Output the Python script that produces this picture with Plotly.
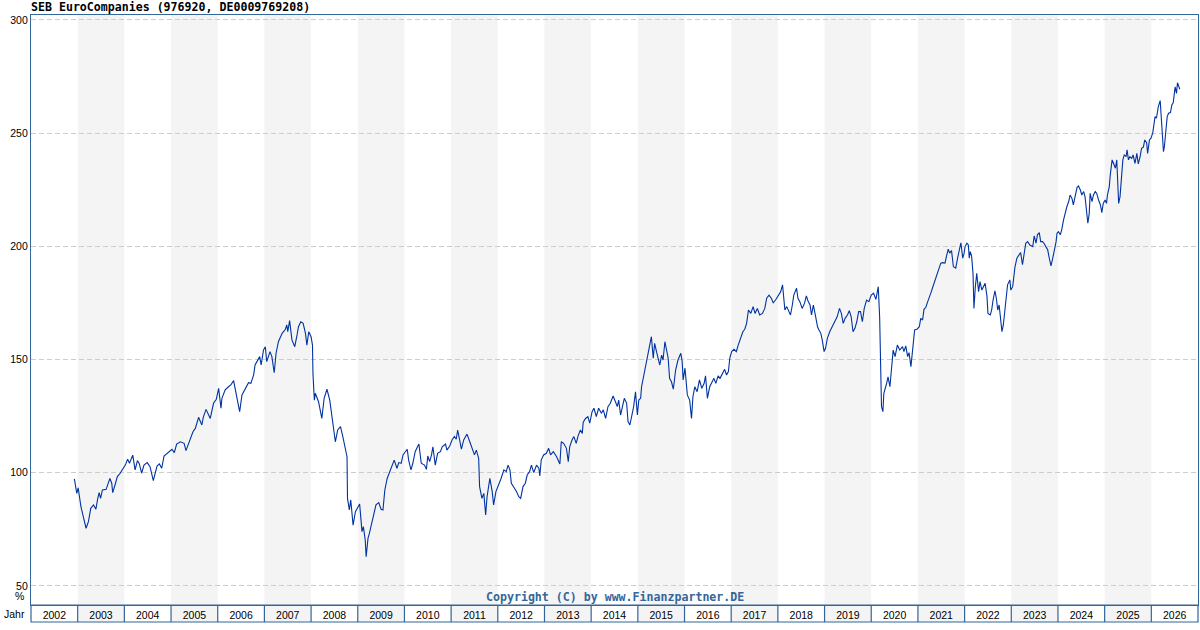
import plotly.graph_objects as go

title_text = "SEB EuroCompanies (976920, DE0009769208)"
copyright_text = "Copyright (C) by www.Finanzpartner.DE"
years = list(range(2002, 2027))
y_ticks = [50, 100, 150, 200, 250, 300]

t = [2002.93, 2002.98, 2003.01, 2003.07, 2003.12, 2003.18, 2003.23, 2003.28, 2003.34, 2003.39,
     2003.43, 2003.46, 2003.49, 2003.53, 2003.61, 2003.66, 2003.69, 2003.73, 2003.75, 2003.80,
     2003.85, 2003.91, 2003.97, 2004.02, 2004.07, 2004.11, 2004.18, 2004.23, 2004.28, 2004.32,
     2004.37, 2004.42, 2004.49, 2004.55, 2004.62, 2004.70, 2004.75, 2004.80, 2004.85, 2004.91,
     2005.02, 2005.07, 2005.12, 2005.20, 2005.28, 2005.32, 2005.41, 2005.47, 2005.52, 2005.59,
     2005.66, 2005.69, 2005.75, 2005.84, 2005.91, 2005.97, 2006.02, 2006.07, 2006.09, 2006.16,
     2006.23, 2006.28, 2006.34, 2006.40, 2006.47, 2006.52, 2006.59, 2006.66, 2006.71, 2006.77,
     2006.80, 2006.85, 2006.90, 2006.93, 2006.98, 2007.02, 2007.05, 2007.12, 2007.16, 2007.21,
     2007.25, 2007.30, 2007.38, 2007.45, 2007.48, 2007.50, 2007.54, 2007.59, 2007.65, 2007.70,
     2007.73, 2007.78, 2007.83, 2007.88, 2007.91, 2007.95, 2008.00, 2008.03, 2008.04, 2008.07,
     2008.09, 2008.16, 2008.23, 2008.28, 2008.34, 2008.40, 2008.48, 2008.52, 2008.57, 2008.63,
     2008.68, 2008.73, 2008.77, 2008.78, 2008.82, 2008.85, 2008.90, 2008.95, 2009.00, 2009.04,
     2009.07, 2009.09, 2009.12, 2009.16, 2009.18, 2009.22, 2009.25, 2009.30, 2009.34, 2009.39,
     2009.45, 2009.50, 2009.54, 2009.58, 2009.63, 2009.68, 2009.73, 2009.78, 2009.84, 2009.88,
     2009.93, 2009.97, 2010.02, 2010.06, 2010.09, 2010.14, 2010.18, 2010.23, 2010.28, 2010.31,
     2010.36, 2010.43, 2010.47, 2010.50, 2010.54, 2010.58, 2010.61, 2010.66, 2010.71, 2010.77,
     2010.81, 2010.88, 2010.91, 2010.97, 2011.02, 2011.07, 2011.11, 2011.14, 2011.18, 2011.22,
     2011.27, 2011.34, 2011.40, 2011.45, 2011.50, 2011.54, 2011.59, 2011.61, 2011.66, 2011.70,
     2011.74, 2011.77, 2011.83, 2011.88, 2011.91, 2011.96, 2012.02, 2012.07, 2012.13, 2012.18,
     2012.22, 2012.26, 2012.29, 2012.34, 2012.40, 2012.45, 2012.49, 2012.54, 2012.59, 2012.63,
     2012.68, 2012.72, 2012.77, 2012.83, 2012.88, 2012.90, 2012.93, 2012.98, 2013.04, 2013.09,
     2013.13, 2013.19, 2013.26, 2013.33, 2013.36, 2013.41, 2013.47, 2013.51, 2013.54, 2013.59,
     2013.63, 2013.68, 2013.72, 2013.77, 2013.81, 2013.83, 2013.88, 2013.93, 2013.97, 2014.02,
     2014.06, 2014.11, 2014.16, 2014.22, 2014.26, 2014.31, 2014.36, 2014.41, 2014.47, 2014.52,
     2014.56, 2014.59, 2014.63, 2014.67, 2014.71, 2014.76, 2014.79, 2014.83, 2014.88, 2014.91,
     2014.95, 2014.99, 2015.02, 2015.06, 2015.08, 2015.12, 2015.15, 2015.19, 2015.24, 2015.27,
     2015.29, 2015.33, 2015.36, 2015.40, 2015.44, 2015.47, 2015.51, 2015.54, 2015.58, 2015.62,
     2015.65, 2015.68, 2015.72, 2015.76, 2015.81, 2015.86, 2015.92, 2015.95, 2015.97, 2016.01,
     2016.06, 2016.11, 2016.15, 2016.18, 2016.22, 2016.27, 2016.32, 2016.37, 2016.42, 2016.45,
     2016.49, 2016.54, 2016.60, 2016.63, 2016.67, 2016.72, 2016.76, 2016.81, 2016.86, 2016.90,
     2016.94, 2016.97, 2017.01, 2017.06, 2017.11, 2017.15, 2017.20, 2017.25, 2017.29, 2017.33,
     2017.37, 2017.42, 2017.47, 2017.51, 2017.56, 2017.61, 2017.67, 2017.72, 2017.76, 2017.81,
     2017.86, 2017.90, 2017.95, 2018.00, 2018.06, 2018.10, 2018.12, 2018.15, 2018.19, 2018.24,
     2018.27, 2018.31, 2018.34, 2018.40, 2018.43, 2018.47, 2018.52, 2018.57, 2018.61, 2018.65,
     2018.69, 2018.72, 2018.76, 2018.81, 2018.85, 2018.88, 2018.92, 2018.95, 2018.99, 2019.02,
     2019.06, 2019.11, 2019.15, 2019.20, 2019.24, 2019.27, 2019.32, 2019.36, 2019.40, 2019.44,
     2019.49, 2019.53, 2019.57, 2019.61, 2019.65, 2019.69, 2019.73, 2019.77, 2019.81, 2019.85,
     2019.90, 2019.95, 2020.00, 2020.05, 2020.10, 2020.15, 2020.18, 2020.20, 2020.22, 2020.25,
     2020.27, 2020.33, 2020.36, 2020.40, 2020.43, 2020.47, 2020.51, 2020.56, 2020.61, 2020.67,
     2020.70, 2020.74, 2020.78, 2020.81, 2020.85, 2020.88, 2020.90, 2020.93, 2020.98, 2021.03,
     2021.06, 2021.10, 2021.13, 2021.17, 2021.21, 2021.24, 2021.28, 2021.31, 2021.35, 2021.38,
     2021.42, 2021.45, 2021.49, 2021.53, 2021.58, 2021.61, 2021.65, 2021.68, 2021.72, 2021.76,
     2021.81, 2021.85, 2021.88, 2021.92, 2021.96, 2021.99, 2022.01, 2022.05, 2022.08, 2022.10,
     2022.12, 2022.15, 2022.18, 2022.20, 2022.23, 2022.26, 2022.30, 2022.33, 2022.37, 2022.41,
     2022.44, 2022.48, 2022.50, 2022.55, 2022.58, 2022.61, 2022.65, 2022.68, 2022.71, 2022.74,
     2022.78, 2022.80, 2022.83, 2022.86, 2022.89, 2022.92, 2022.97, 2022.99, 2023.03, 2023.05,
     2023.08, 2023.12, 2023.17, 2023.20, 2023.24, 2023.28, 2023.31, 2023.35, 2023.40, 2023.46,
     2023.49, 2023.53, 2023.56, 2023.60, 2023.63, 2023.67, 2023.70, 2023.74, 2023.78, 2023.81,
     2023.85, 2023.88, 2023.92, 2023.96, 2023.98, 2024.01, 2024.05, 2024.08, 2024.12, 2024.15,
     2024.19, 2024.23, 2024.26, 2024.30, 2024.33, 2024.37, 2024.41, 2024.44, 2024.48, 2024.51,
     2024.55, 2024.58, 2024.61, 2024.64, 2024.67, 2024.69, 2024.73, 2024.76, 2024.80, 2024.83,
     2024.87, 2024.91, 2024.94, 2024.97, 2025.01, 2025.04, 2025.06, 2025.10, 2025.12, 2025.16,
     2025.19, 2025.23, 2025.26, 2025.28, 2025.30, 2025.33, 2025.35, 2025.39, 2025.42, 2025.46,
     2025.48, 2025.51, 2025.54, 2025.58, 2025.61, 2025.65, 2025.69, 2025.72, 2025.76, 2025.79,
     2025.83, 2025.86, 2025.90, 2025.92, 2025.96, 2025.99, 2026.03, 2026.05, 2026.08, 2026.11,
     2026.15, 2026.19, 2026.21, 2026.23, 2026.26, 2026.28, 2026.31, 2026.34, 2026.37, 2026.41,
     2026.44, 2026.47, 2026.51, 2026.54, 2026.56, 2026.59, 2026.61]

v = [97.3, 90.9, 93.3, 85.0, 80.6, 75.5, 78.4, 84.3, 85.8, 83.9,
     88.7, 91.2, 88.7, 92.4, 92.7, 96.4, 97.5, 95.4, 91.2, 94.6,
     98.3, 99.8, 101.5, 103.4, 106.0, 104.2, 107.8, 101.3, 105.4, 104.0,
     99.8, 103.4, 104.5, 102.7, 96.5, 103.0, 103.9, 102.0, 107.4, 108.6,
     110.4, 108.9, 112.7, 113.7, 113.0, 109.8, 114.5, 118.1, 119.6, 124.5,
     121.1, 124.5, 128.0, 124.0, 130.7, 132.5, 137.3, 128.5, 132.9, 136.6,
     138.0, 138.8, 140.7, 134.4, 127.0, 134.4, 136.9, 139.8, 139.5, 143.2,
     147.6, 149.8, 151.3, 147.6, 154.2, 155.7, 149.1, 153.5, 151.3, 144.2,
     152.8, 157.9, 161.6, 163.4, 165.3, 162.3, 167.2, 158.7, 155.7, 160.9,
     164.5, 166.7, 166.0, 161.6, 156.4, 162.3, 160.1, 156.4, 143.9, 132.1,
     135.1, 131.4, 124.0, 132.9, 136.9, 132.1, 121.1, 113.7, 118.9, 120.4,
     116.0, 111.5, 107.1, 88.7, 83.6, 88.0, 76.9, 82.8, 85.0, 86.2,
     79.1, 74.0, 76.2, 70.3, 62.9, 71.1, 73.3, 78.0, 82.1, 85.8,
     86.8, 83.9, 83.6, 92.4, 97.5, 100.5, 103.4, 105.6, 102.0, 104.5,
     104.2, 107.9, 109.3, 110.4, 105.6, 101.3, 104.2, 109.3, 111.5, 112.7,
     104.2, 103.4, 101.5, 107.4, 104.9, 107.9, 111.5, 103.4, 108.6, 109.3,
     111.5, 112.7, 110.0, 111.8, 114.5, 116.0, 114.8, 118.9, 114.8, 110.4,
     114.5, 117.1, 113.7, 110.8, 107.9, 110.0, 106.4, 93.9, 88.7, 90.9,
     81.4, 89.4, 97.5, 91.7, 85.8, 91.7, 94.6, 97.5, 101.3, 100.5,
     103.4, 101.3, 95.4, 93.9, 91.7, 89.4, 88.7, 93.9, 95.4, 99.0,
     100.5, 103.4, 100.1, 103.4, 102.0, 98.6, 105.6, 107.9, 108.6, 110.8,
     107.9, 109.3, 107.1, 103.9, 113.7, 113.0, 110.8, 104.9, 111.5, 114.5,
     116.0, 113.0, 116.3, 118.9, 117.4, 122.3, 124.0, 124.8, 121.9, 127.0,
     128.5, 124.8, 128.5, 126.3, 127.8, 124.0, 129.2, 130.7, 133.9, 131.4,
     129.2, 132.1, 125.5, 129.2, 132.9, 130.7, 122.6, 121.1, 126.3, 129.2,
     135.8, 125.5, 132.1, 132.9, 138.0, 142.4, 145.4, 149.1, 154.2, 157.2,
     160.1, 150.6, 157.2, 153.5, 149.8, 147.6, 152.0, 149.8, 157.9, 154.2,
     150.6, 141.7, 140.2, 136.9, 145.4, 149.8, 152.8, 149.1, 141.0, 146.2,
     134.4, 132.1, 124.0, 133.6, 138.0, 135.8, 141.0, 137.3, 139.5, 142.8,
     132.9, 138.0, 140.2, 141.7, 139.5, 142.8, 141.7, 143.6, 145.7, 143.2,
     144.7, 150.6, 153.5, 154.5, 153.5, 156.4, 159.4, 162.3, 163.4, 166.0,
     171.9, 170.4, 173.4, 170.4, 172.6, 169.7, 170.4, 172.6, 177.1, 178.5,
     177.1, 175.1, 176.3, 177.8, 180.0, 183.0, 177.1, 171.9, 173.4, 171.2,
     169.7, 174.1, 178.5, 181.5, 177.1, 175.6, 172.6, 174.8, 178.1, 175.6,
     174.1, 169.7, 174.1, 168.9, 164.5, 163.1, 161.6, 158.7, 153.5, 155.0,
     159.4, 162.3, 163.8, 166.0, 167.5, 168.9, 172.6, 170.4, 166.0, 168.2,
     169.7, 171.6, 168.9, 162.3, 163.8, 166.7, 171.2, 171.2, 166.7, 172.6,
     176.3, 175.6, 178.5, 179.3, 176.6, 182.2, 168.9, 146.9, 129.2, 127.0,
     135.1, 139.5, 142.4, 138.0, 146.9, 154.2, 151.3, 156.4, 154.2, 155.7,
     153.5, 156.0, 151.3, 153.1, 146.9, 153.5, 159.4, 163.1, 163.4, 164.5,
     168.2, 167.5, 172.2, 173.1, 175.6, 177.8, 179.6, 181.5, 184.0, 185.9,
     188.1, 190.4, 192.6, 192.8, 192.6, 195.5, 198.8, 197.0, 198.1, 191.0,
     190.4, 194.8, 198.5, 201.6, 194.8, 197.0, 199.9, 201.4, 200.6, 194.8,
     197.7, 195.8, 188.1, 172.6, 182.2, 188.1, 180.0, 184.4, 180.7, 182.2,
     183.7, 177.8, 170.4, 169.7, 171.9, 176.3, 180.4, 177.1, 171.9, 174.1,
     164.5, 162.3, 165.3, 170.4, 176.3, 183.0, 185.2, 180.7, 182.2, 186.9,
     191.0, 194.8, 196.6, 197.3, 191.9, 197.0, 201.4, 202.1, 200.6, 199.9,
     204.6, 201.4, 205.1, 206.1, 202.1, 202.1, 201.4, 199.9, 198.5, 195.2,
     191.4, 194.0, 197.7, 202.1, 205.8, 206.5, 205.1, 207.3, 211.7, 214.6,
     217.5, 219.8, 222.7, 221.2, 218.3, 222.3, 226.1, 226.7, 224.9, 222.7,
     224.2, 222.0, 215.3, 210.2, 214.6, 223.4, 219.8, 222.7, 224.2, 223.4,
     220.5, 218.3, 214.9, 219.0, 220.5, 219.0, 222.7, 226.4, 231.5, 238.2,
     236.7, 234.5, 238.2, 227.1, 219.0, 222.0, 227.9, 238.2, 240.4, 239.6,
     242.6, 238.2, 239.6, 238.9, 240.4, 236.7, 241.1, 236.4, 239.6, 243.3,
     243.8, 247.0, 245.8, 241.1, 247.0, 247.7, 250.0, 252.9, 257.3, 256.6,
     261.7, 264.4, 258.0, 252.2, 241.8, 244.0, 252.2, 257.3, 258.8, 259.1,
     262.5, 263.5, 270.5, 267.6, 272.3, 269.8, 269.4]

BLUE = "#336699"
SHADE = "#f4f4f4"
FONT = "DejaVu Sans Mono"

x_min, x_max = 2002, 2027
y_min, y_max = 41.6, 302.2

W, H = 1200, 630
ml, mr, mt, mb = 31, 2, 15, 25
plot_h = H - mt - mb
band = 17 / plot_h

fig = go.Figure()
fig.add_trace(go.Scatter(x=t, y=v, mode="lines",
                         line=dict(color="#0033A0", width=1.1), hoverinfo="skip",
                         showlegend=False))

shapes = []
for yr in years:
    if yr % 2 == 1:
        shapes.append(dict(type="rect", xref="x", yref="paper", x0=yr, x1=yr + 1,
                           y0=-band, y1=1, fillcolor=SHADE, line=dict(width=0),
                           layer="below"))
for yr in years[1:]:
    shapes.append(dict(type="line", xref="x", yref="paper", x0=yr, x1=yr,
                       y0=-band, y1=0, line=dict(color=BLUE, width=1.2)))
shapes.append(dict(type="rect", xref="paper", yref="paper", x0=0, x1=1,
                   y0=-band, y1=0, line=dict(color=BLUE, width=1.2)))

annotations = [
    dict(text="<b>" + title_text + "</b>", xref="paper", yref="paper", x=0, y=1,
         xanchor="left", yanchor="bottom", showarrow=False, yshift=-1, xshift=-2,
         font=dict(family=FONT, size=11.6, color="#000000")),
    dict(text="<b>" + copyright_text + "</b>", xref="paper", yref="paper", x=0.5,
         y=8 / plot_h, xanchor="center", yanchor="middle", showarrow=False,
         font=dict(family=FONT, size=11.6, color=BLUE)),
    dict(text="%", xref="paper", yref="paper", x=-12 / 1167, y=9 / plot_h,
         xanchor="center", yanchor="middle", showarrow=False,
         font=dict(family="Liberation Sans", size=10.5, color="#000000")),
    dict(text="Jahr", xref="paper", yref="paper", x=-17 / 1167, y=-8.5 / plot_h,
         xanchor="center", yanchor="middle", showarrow=False,
         font=dict(family="Liberation Sans", size=10.5, color="#000000")),
]

fig.update_layout(
    width=W, height=H,
    margin=dict(l=ml, r=mr, t=mt, b=mb, pad=0),
    paper_bgcolor="white", plot_bgcolor="white",
    shapes=shapes, annotations=annotations,
    xaxis=dict(range=[x_min, x_max], tickvals=[yr + 0.5 for yr in years],
               ticktext=[str(yr) for yr in years], showgrid=False, zeroline=False,
               showline=True, linecolor=BLUE, linewidth=1.2, mirror=True,
               ticks="", tickfont=dict(family="Liberation Sans", size=10.5, color="#000000"),
               fixedrange=True),
    yaxis=dict(range=[y_min, y_max], tickvals=y_ticks, ticktext=[str(x) for x in y_ticks],
               showgrid=True, gridcolor="#cccccc", griddash="5px,3px", gridwidth=1,
               zeroline=False, showline=True, linecolor=BLUE, linewidth=1.2, mirror=True,
               ticks="", tickfont=dict(family="Liberation Sans", size=10.5, color="#000000"),
               fixedrange=True),
)

fig.write_html("out.html")
